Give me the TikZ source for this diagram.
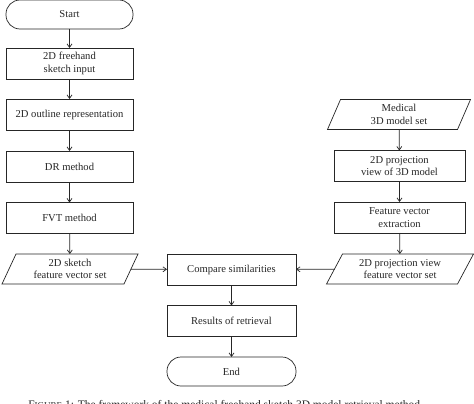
\documentclass[tikz,border=0pt]{standalone}
\usepackage{fontspec}
\setmainfont{Liberation Serif}
\usetikzlibrary{calc,arrows.meta}
\begin{document}
\begin{tikzpicture}[x=1pt,y=-1pt,
  line width=0.7pt,
  every node/.style={font=\fontsize{10.6}{12.7}\selectfont, text=black!85},
  base/.style={draw=black!85, inner sep=0pt, outer sep=0pt, align=center, minimum height=31pt},
  boxL/.style={base, minimum width=127pt},
  boxC/.style={base, minimum width=129pt},
  boxR/.style={base, minimum width=131pt},
  term/.style={base, minimum width=129pt, rounded corners=14pt, minimum height=29pt},
  para/.style={inner sep=0pt, outer sep=0pt, align=center, minimum height=30pt},
  arr/.style={draw=black!85, -{Straight Barb[length=3.5pt,width=5pt]}}
]
\useasboundingbox (0,0) rectangle (474,404);

% left column
\node[term, minimum width=127pt] (start) at (69.5,14.5) {Start};
\node[boxL] (free) at (69.5,63.5) {2D freehand\\sketch input};
\node[boxL] (outline) at (69.5,114.5) {2D outline representation};
\node[boxL] (dr) at (69.5,166.5) {DR method};
\node[boxL] (fvt) at (69.5,218) {FVT method};
\node[para, minimum width=122pt] (skset) at (70,269) {2D sketch\\feature vector set};
\draw[draw=black!85] ($(skset.north west)+(7,0)$) -- ($(skset.north east)+(7,0)$)
  -- ($(skset.south east)+(-7,0)$) -- ($(skset.south west)+(-7,0)$) -- cycle;

% centre column
\node[boxC] (cmp) at (231.5,269.5) {Compare similarities};
\node[boxC] (res) at (231.5,321) {Results of retrieval};
\node[term] (end) at (231.5,371.5) {End};

% right column
\node[para, minimum width=130pt] (med) at (399,114.5) {Medical\\3D model set};
\draw[draw=black!85] ($(med.north west)+(6.5,0)$) -- ($(med.north east)+(6.5,0)$)
  -- ($(med.south east)+(-6.5,0)$) -- ($(med.south west)+(-6.5,0)$) -- cycle;
\node[boxR] (proj) at (399.5,166) {2D projection\\view of 3D model};
\node[boxR] (fve) at (399.5,217.5) {Feature vector\\extraction};
\node[para, minimum width=131pt] (pjset) at (400,269) {2D projection view\\feature vector set};
\draw[draw=black!85] ($(pjset.north west)+(8,0)$) -- ($(pjset.north east)+(8,0)$)
  -- ($(pjset.south east)+(-8,0)$) -- ($(pjset.south west)+(-8,0)$) -- cycle;

% connectors
\draw[arr] (start) -- (free);
\draw[arr] (free) -- (outline);
\draw[arr] (outline) -- (dr);
\draw[arr] (dr) -- (fvt);
\draw[arr] (fvt) -- (skset);
\draw[arr] (skset) -- (cmp);
\draw[arr] (cmp) -- (res);
\draw[arr] (res) -- (end);
\draw[arr] (med) -- (proj);
\draw[arr] (proj) -- (fve);
\draw[arr] (fve) -- (pjset);
\draw[arr] (pjset) -- (cmp);

% caption (cut off at the bottom edge, as in the reference)
\node[anchor=north west, inner sep=0pt, font=\fontsize{11.5}{13.5}\selectfont] (cap) at (28,400)
  {F{\fontsize{9}{10}\selectfont IGURE} 1: The framework of the medical freehand sketch 3D model retrieval method};
\end{tikzpicture}
\end{document}
